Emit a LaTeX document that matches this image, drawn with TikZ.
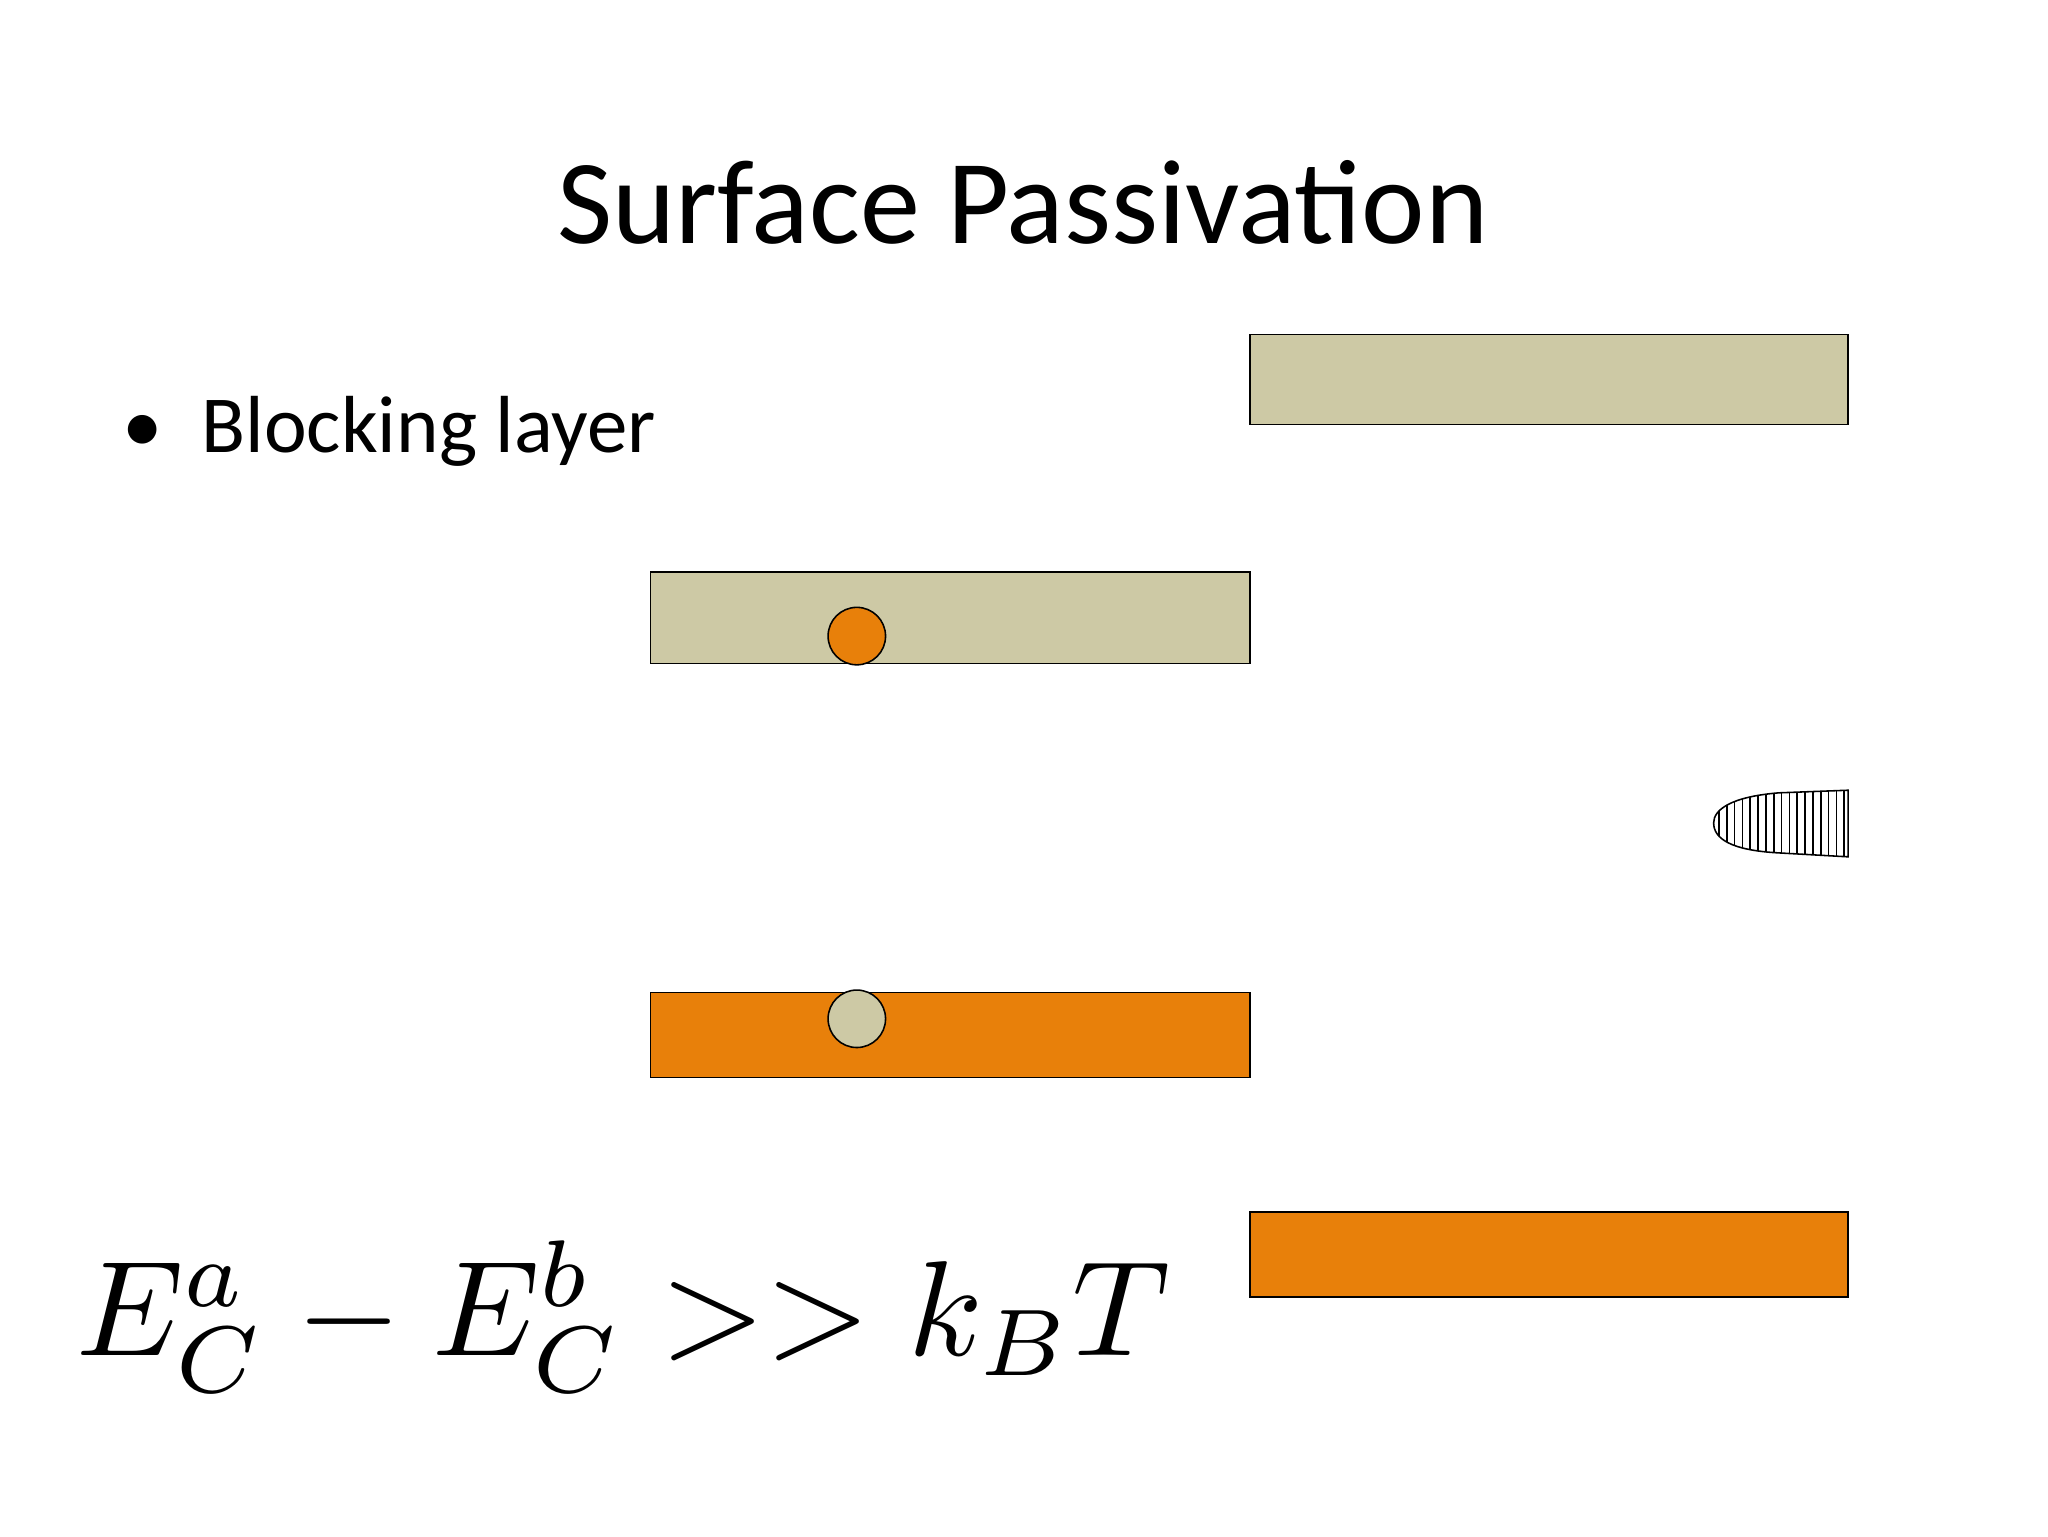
\documentclass[tikz,border=0pt]{standalone}
\usepackage{fontspec}
\setmainfont{Carlito}
\usepackage{graphicx}
\definecolor{tan}{HTML}{CDC9A5}
\definecolor{org}{HTML}{E8800A}
\begin{document}
\begin{tikzpicture}[x=1pt,y=-1pt,
  bar/.style={draw=black,line width=1.2pt},
  dot/.style={circle,draw=black,line width=1.2pt,minimum size=44pt,inner sep=0pt}]
\useasboundingbox (0,0) rectangle (1568,1176);
\node (title) at (783,155) {\fontsize{92}{100}\selectfont Surface Passivation};
\node[anchor=west] (bullet) at (90,330) {\fontsize{62}{70}\selectfont •\hspace{30pt}Blocking layer};
\draw[bar,fill=tan] (957,256) rectangle (1415,325);
\draw[bar,fill=tan] (498,438) rectangle (957,508);
\node[dot,fill=org] (c1) at (656,487) {};
\draw[bar,fill=org] (498,760) rectangle (957,825);
\node[dot,fill=tan] (c2) at (656,780) {};
\draw[bar,fill=org] (957,928) rectangle (1415,993);
\begin{scope}
\clip (1415,605) -- (1362,607) .. controls (1325,610) and (1312,620) .. (1312,630) .. controls (1312,642) and (1325,651) .. (1362,653) -- (1415,656) -- cycle;
\foreach \x in {1316,1322,...,1415} \draw[line width=1.2pt] (\x,600) -- (\x,660);
\end{scope}
\draw[line width=1.2pt] (1415,605) -- (1362,607) .. controls (1325,610) and (1312,620) .. (1312,630) .. controls (1312,642) and (1325,651) .. (1362,653) -- (1415,656) -- cycle;
\node[anchor=west,inner sep=0pt] (eq) at (58,1008) {\resizebox{837pt}{!}{$E_C^a - E_C^b >> k_BT$}};
\end{tikzpicture}
\end{document}
